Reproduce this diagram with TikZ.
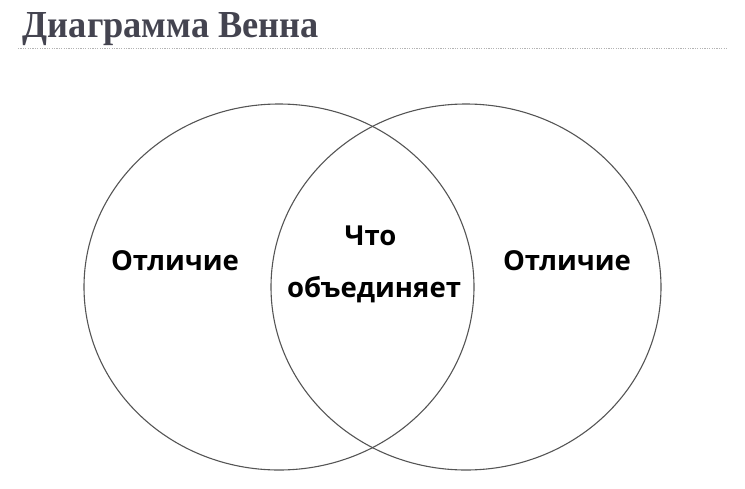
\documentclass[tikz,border=0pt]{standalone}
\usepackage{fontspec}
\setmainfont{Liberation Serif}
\newfontfamily\labelfont{Open Sans}
\definecolor{titlegray}{RGB}{68,68,80}
\definecolor{ringgray}{RGB}{85,85,85}
\definecolor{dotgray}{RGB}{180,180,180}
\begin{document}
\begin{tikzpicture}[x=1pt,y=-1pt,
  ring/.style={draw=ringgray,line width=1.1pt},
  lbl/.style={inner sep=0pt,anchor=base,font=\labelfont\bfseries\fontsize{27.5}{32}\selectfont,text=black}]
\useasboundingbox (0,0) rectangle (745,488);
\node[inner sep=0pt,anchor=base west,text=titlegray] (title) at (22.7,37.3)
  {\resizebox{296pt}{25pt}{\bfseries Диаграмма Венна}};
\coordinate (dl) at (18,48);
\coordinate (dr) at (728,48);
\draw[dotgray,line width=1pt,dash pattern=on 1.2pt off 1.2pt] (dl) -- (dr);
\draw[ring] (279,287) ellipse [x radius=195, y radius=183];
\draw[ring] (466,287) ellipse [x radius=195, y radius=183];
\node[lbl] (left) at (175,270) {Отличие};
\node[lbl] (right) at (567,270) {Отличие};
\node[lbl] (what) at (370.5,245) {Что};
\node[lbl] (unites) at (374,297) {объединяет};
\end{tikzpicture}
\end{document}
